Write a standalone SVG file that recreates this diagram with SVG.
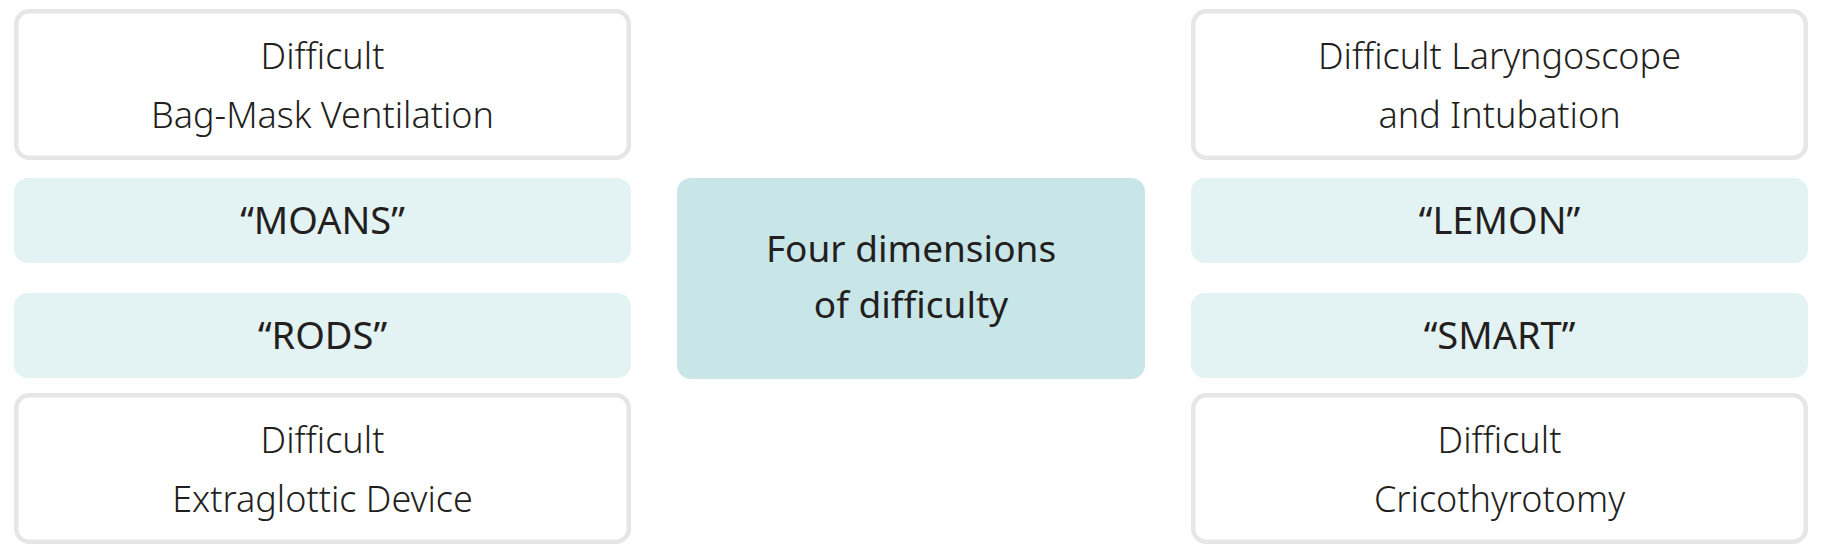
<svg xmlns="http://www.w3.org/2000/svg" width="1822" height="560" viewBox="0 0 1822 560">
<style>
.frame{fill:#ffffff;stroke:#e6e6e6;stroke-width:4.5}
.key{fill:#e3f2f2}
.core{fill:#c8e6e8}
text{font-family:"Noto Sans","Open Sans","Liberation Sans",sans-serif;fill:#231f20;text-anchor:middle}
.t{font-size:36px;font-weight:300}
.k{font-size:38px;font-weight:400}
.c{font-size:37px;font-weight:400}
</style>
<rect width="1822" height="560" fill="#ffffff"/>
<g id="connectors"></g>
<g id="bmv">
<rect class="frame" x="16.25" y="11.25" width="612.5" height="146.5" rx="13"/>
<text class="t" x="322.5" y="69">Difficult</text>
<text class="t" x="322.5" y="128">Bag-Mask Ventilation</text>
</g>
<g id="moans">
<rect class="key" x="14" y="178" width="617" height="85" rx="14"/>
<text class="k" x="322.5" y="234">“MOANS”</text>
</g>
<g id="rods">
<rect class="key" x="14" y="293" width="617" height="85" rx="14"/>
<text class="k" x="322.5" y="349">“RODS”</text>
</g>
<g id="ed">
<rect class="frame" x="16.25" y="395.25" width="612.5" height="146.5" rx="13"/>
<text class="t" x="322.5" y="453">Difficult</text>
<text class="t" x="322.5" y="512">Extraglottic Device</text>
</g>
<g id="center">
<rect class="core" x="677" y="178" width="468" height="201" rx="14"/>
<text class="c" x="911" y="262">Four dimensions</text>
<text class="c" x="911" y="318">of difficulty</text>
</g>
<g id="li">
<rect class="frame" x="1193.25" y="11.25" width="612.5" height="146.5" rx="13"/>
<text class="t" x="1499.5" y="69">Difficult Laryngoscope</text>
<text class="t" x="1499.5" y="128">and Intubation</text>
</g>
<g id="lemon">
<rect class="key" x="1191" y="178" width="617" height="85" rx="14"/>
<text class="k" x="1499.5" y="234">“LEMON”</text>
</g>
<g id="smart">
<rect class="key" x="1191" y="293" width="617" height="85" rx="14"/>
<text class="k" x="1499.5" y="349">“SMART”</text>
</g>
<g id="cric">
<rect class="frame" x="1193.25" y="395.25" width="612.5" height="146.5" rx="13"/>
<text class="t" x="1499.5" y="453">Difficult</text>
<text class="t" x="1499.5" y="512">Cricothyrotomy</text>
</g>
</svg>
